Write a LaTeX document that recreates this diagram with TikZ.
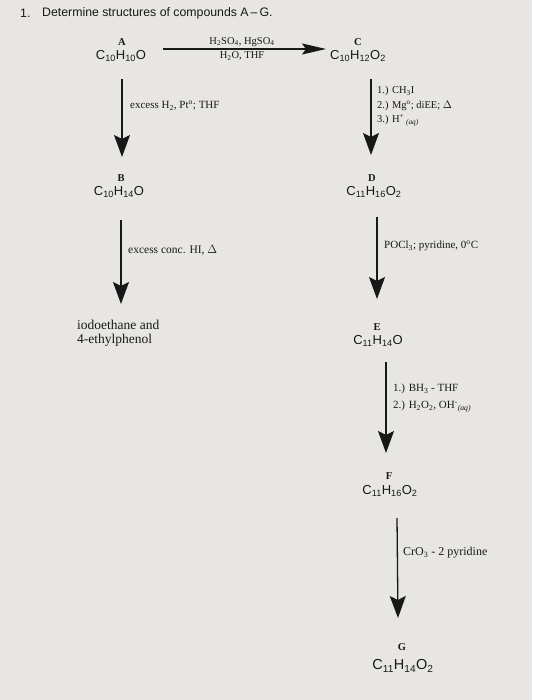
\documentclass[tikz,border=0pt]{standalone}
\usepackage{fontspec}
\setmainfont{Liberation Serif}
\newfontfamily\arialf{Liberation Sans}
\usetikzlibrary{arrows.meta}
\definecolor{paper}{RGB}{231,230,227}
\definecolor{ink}{RGB}{24,24,24}
\newcommand\sbs[1]{\textsubscript{#1}}
\newcommand\sps[1]{\textsuperscript{#1}}
\tikzset{
  formula/.style={font=\arialf\fontsize{13}{15}\selectfont, text=ink, inner sep=0pt},
  letter/.style={font=\fontsize{10.5}{12}\selectfont\bfseries, text=ink, inner sep=0pt},
  cond/.style={font=\fontsize{11}{13}\selectfont, text=ink, inner sep=0pt, anchor=west, align=left},
  rxn/.style={draw=ink, line width=1.3pt, -{Stealth[length=22pt,width=16pt,inset=4pt]}},
  hrxn/.style={draw=ink, line width=1.1pt, -{Stealth[length=24pt,width=11pt,inset=4pt]}},
  titletext/.style={font=\arialf\fontsize{12.3}{14}\selectfont, text=ink, anchor=west, inner sep=0pt}
}
\begin{document}
\begin{tikzpicture}[x=1pt,y=-1pt]
\fill[paper] (0,0) rectangle (532,700);
\useasboundingbox (0,0) rectangle (532,700);
% title
\node[titletext] (num) at (20,13) {1.};
\node[titletext] (title) at (42,13) {Determine structures of compounds A\,–\,G.};
% A
\node[letter] (lA) at (122,42) {A};
\node[formula] (fA) at (121,56) {C\sbs{10}H\sbs{10}O};
% C
\node[letter] (lC) at (358,42) {C};
\node[formula] (fC) at (358,56) {C\sbs{10}H\sbs{12}O\sbs{2}};
% A -> C
\coordinate (h1s) at (163,49);
\coordinate (h1e) at (326,49);
\draw[hrxn] (h1s) -- (h1e);
\node[font=\fontsize{10.5}{12}\selectfont, text=ink, inner sep=0pt] (h1t) at (242,42) {H\sbs{2}SO\sbs{4}, HgSO\sbs{4}};
\node[font=\fontsize{10.5}{12}\selectfont, text=ink, inner sep=0pt] (h1b) at (242,56) {H\sbs{2}O, THF};
% A -> B
\coordinate (v1s) at (122,79);
\coordinate (v1e) at (122,157);
\draw[rxn] (v1s) -- (v1e);
\node[cond] (c1) at (130,106) {excess H\sbs{2}, Pt\sps{o}; THF};
% C -> D
\coordinate (v2s) at (371,79);
\coordinate (v2e) at (371,155);
\draw[rxn] (v2s) -- (v2e);
\node[cond, font=\fontsize{10.5}{14.5}\selectfont] (c2) at (377,106) {1.) CH\sbs{3}I\\2.) Mg\sps{o}; diEE; $\Delta$\\3.) H\sps{+}\,\sbs{\itshape(aq)}};
% B
\node[letter] (lB) at (121,178) {B};
\node[formula] (fB) at (119,192) {C\sbs{10}H\sbs{14}O};
% D
\node[letter] (lD) at (372,178) {D};
\node[formula] (fD) at (374,192) {C\sbs{11}H\sbs{16}O\sbs{2}};
% B -> products
\coordinate (v3s) at (121,220);
\coordinate (v3e) at (121,304);
\draw[rxn] (v3s) -- (v3e);
\node[cond, font=\fontsize{11.5}{13}\selectfont] (c3) at (128,250) {excess conc. HI, $\Delta$};
\node[font=\fontsize{13.5}{14}\selectfont, text=ink, inner sep=0pt, anchor=west, align=left] (prod) at (77,333) {iodoethane and\\4-ethylphenol};
% D -> E
\coordinate (v4s) at (377,217);
\coordinate (v4e) at (377,299);
\draw[rxn] (v4s) -- (v4e);
\node[cond] (c4) at (384,246) {POCl\sbs{3}; pyridine, 0\sps{o}C};
% E
\node[letter] (lE) at (377,327) {E};
\node[formula] (fE) at (378,341) {C\sbs{11}H\sbs{14}O};
% E -> F
\coordinate (v5s) at (386,362);
\coordinate (v5e) at (386,453);
\draw[rxn] (v5s) -- (v5e);
\node[cond, font=\fontsize{11}{17}\selectfont] (c5) at (393,398) {1.) BH\sbs{3} - THF\\2.) H\sbs{2}O\sbs{2}, OH\sps{-}\sbs{\itshape(aq)}};
% F
\node[letter] (lF) at (389,476) {F};
\node[formula] (fF) at (390,491) {C\sbs{11}H\sbs{16}O\sbs{2}};
% F -> G
\coordinate (v6s) at (397,518);
\coordinate (v6e) at (398,618);
\draw[rxn] (v6s) -- (v6e);
\node[cond, font=\fontsize{12}{14}\selectfont] (c6) at (403,553) {CrO\sbs{3} - 2 pyridine};
% G
\node[letter] (lG) at (402,647) {G};
\node[formula, font=\arialf\fontsize{14.5}{16}\selectfont] (fG) at (403,666) {C\sbs{11}H\sbs{14}O\sbs{2}};
\end{tikzpicture}
\end{document}
